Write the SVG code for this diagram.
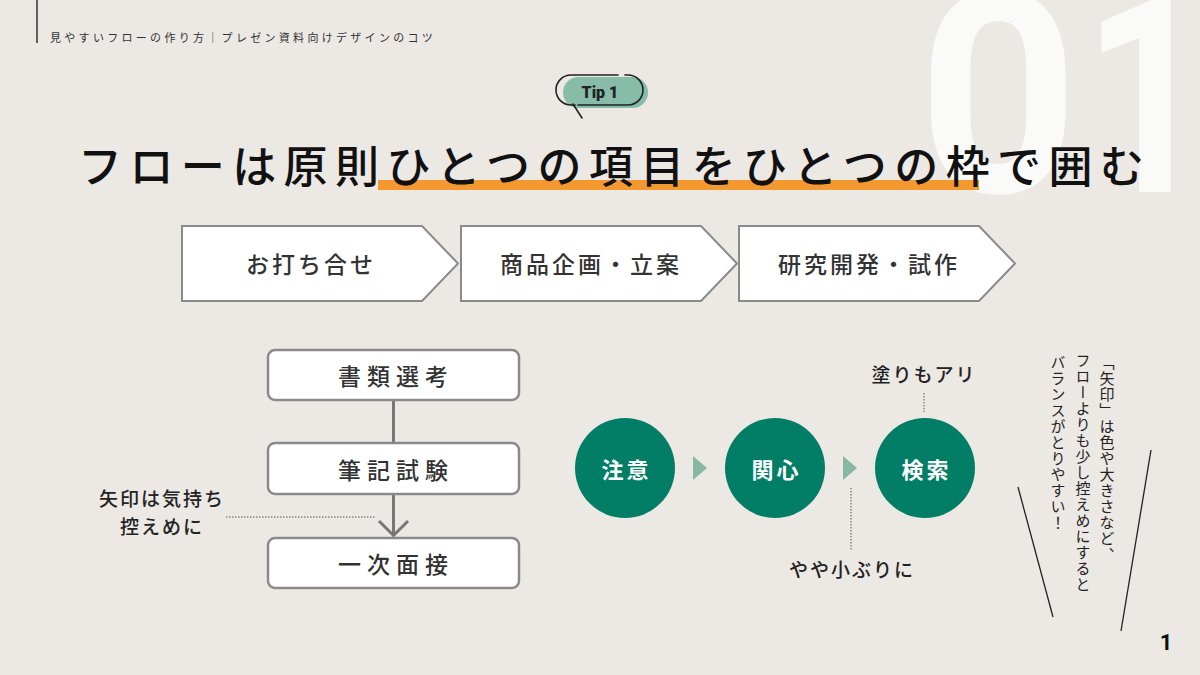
<svg xmlns="http://www.w3.org/2000/svg" width="1200" height="675" viewBox="0 0 1200 675">
<style>
.jp{font-family:"Noto Sans CJK JP","Noto Sans",sans-serif;}
.hdr{font-size:11px;fill:#333;letter-spacing:3.3px;}
.title{font-size:44px;fill:#111;font-weight:500;letter-spacing:7.4px;}
.big{font-family:Roboto,"Liberation Sans",sans-serif;font-weight:700;font-size:280px;fill:#fafaf8;}
.chev{fill:#fff;stroke:#8a8a8a;stroke-width:2;}
.chevt{font-size:23px;fill:#333;letter-spacing:3px;text-anchor:middle;dominant-baseline:central;font-weight:500;}
.box{fill:#fff;stroke:#8a8a8a;stroke-width:2.5;}
.boxt{font-size:23px;fill:#333;letter-spacing:6px;text-anchor:middle;dominant-baseline:central;font-weight:500;}
.circ{fill:#037e66;}
.circt{font-size:22px;fill:#fff;font-weight:700;letter-spacing:3px;text-anchor:middle;dominant-baseline:central;}
.tri{fill:#86b8a4;}
.note{font-size:19px;fill:#222;letter-spacing:2px;text-anchor:middle;dominant-baseline:central;font-weight:500;}
.dot{stroke:#555;stroke-width:1;stroke-dasharray:1.5 1.5;fill:none;}
.conn{stroke:#777;stroke-width:3;fill:none;}
.vert{font-size:15px;fill:#222;writing-mode:vertical-rl;letter-spacing:1px;}
</style>
<rect x="0" y="0" width="1200" height="675" fill="#ece8e4"/>
<g id="bignum">
<text class="big" x="918" y="192">0</text>
<text class="big" transform="translate(1083,192) scale(0.8,1)" x="0" y="0">1</text>
</g>
<g id="header">
<line x1="37" y1="0" x2="37" y2="43" stroke="#333" stroke-width="1.5"/>
<text class="jp hdr" x="50" y="42">見やすいフローの作り方｜プレゼン資料向けデザインのコツ</text>
</g>
<g id="tip">
<rect x="563" y="77" width="85" height="31" rx="15.5" fill="#86bca8"/>
<path d="M625,75 H628 A15,15 0 0 1 628,105 H578 M573,104 L582,118 M575,105 H571 A15,15 0 0 1 571,75 H618" fill="none" stroke="#222" stroke-width="1.6" stroke-linecap="round"/>
<text x="600" y="92" font-family="Roboto,'Liberation Sans',sans-serif" font-weight="900" font-size="16" fill="#222" text-anchor="middle" dominant-baseline="central">Tip 1</text>
</g>
<g id="title">
<rect x="378" y="180" width="601" height="10" fill="#f4992f"/>
<text class="jp title" x="78" y="183">フローは原則ひとつの項目をひとつの枠で囲む</text>
</g>
<g id="chevron1"><polygon class="chev" points="182,226 422,226 458,263.5 422,301 182,301"/><text class="jp chevt" x="311" y="263">お打ち合せ</text></g>
<g id="chevron2"><polygon class="chev" points="461,226 701,226 737,263.5 701,301 461,301"/><text class="jp chevt" x="591" y="263">商品企画・立案</text></g>
<g id="chevron3"><polygon class="chev" points="739,226 979,226 1015,263.5 979,301 739,301"/><text class="jp chevt" x="869" y="263">研究開発・試作</text></g>
<g id="connectors">
<line class="conn" x1="393.5" y1="400" x2="393.5" y2="443"/>
<line class="conn" x1="393.5" y1="494" x2="393.5" y2="534"/>
<polyline class="conn" points="379,521 393.5,535.5 408,521"/>
<polygon class="tri" points="693,456 707,468 693,480"/>
<polygon class="tri" points="843,456 857,468 843,480"/>
</g>
<g id="step1"><rect class="box" x="268" y="350" width="251" height="50" rx="7"/><text class="jp boxt" x="396" y="375">書類選考</text></g>
<g id="step2"><rect class="box" x="268" y="443" width="251" height="51" rx="7"/><text class="jp boxt" x="396" y="468.5">筆記試験</text></g>
<g id="step3"><rect class="box" x="268" y="538" width="251" height="50" rx="7"/><text class="jp boxt" x="396" y="563">一次面接</text></g>
<g id="note-arrow">
<text class="jp note" x="162" y="497">矢印は気持ち</text>
<text class="jp note" x="162" y="525">控えめに</text>
<line class="dot" x1="226" y1="517" x2="376" y2="517"/>
</g>
<g id="c1"><circle class="circ" cx="625" cy="468" r="50"/><text class="jp circt" x="626.5" y="468">注意</text></g>
<g id="c2"><circle class="circ" cx="775" cy="468" r="50"/><text class="jp circt" x="776.5" y="468">関心</text></g>
<g id="c3"><circle class="circ" cx="925" cy="468" r="50"/><text class="jp circt" x="926.5" y="468">検索</text></g>
<g id="note-fill">
<text class="jp note" x="924" y="373">塗りもアリ</text>
<line class="dot" x1="924" y1="393" x2="924" y2="412"/>
</g>
<g id="note-small">
<line class="dot" x1="851" y1="488" x2="851" y2="550"/>
<text class="jp note" x="852" y="568">やや小ぶりに</text>
</g>
<g id="side-note">
<line x1="1018" y1="487" x2="1053" y2="617" stroke="#222" stroke-width="1.3"/>
<line x1="1151" y1="450" x2="1121" y2="631" stroke="#222" stroke-width="1.3"/>
<text class="jp vert" x="1107" y="355">「矢印」は色や大きさなど、</text>
<text class="jp vert" x="1083" y="353">フローよりも少し控えめにすると</text>
<text class="jp vert" x="1058" y="355">バランスがとりやすい！</text>
</g>
<g id="page"><text x="1166" y="650" font-family="Roboto,'Liberation Sans',sans-serif" font-weight="700" font-size="22" fill="#111" text-anchor="middle">1</text></g>
</svg>
